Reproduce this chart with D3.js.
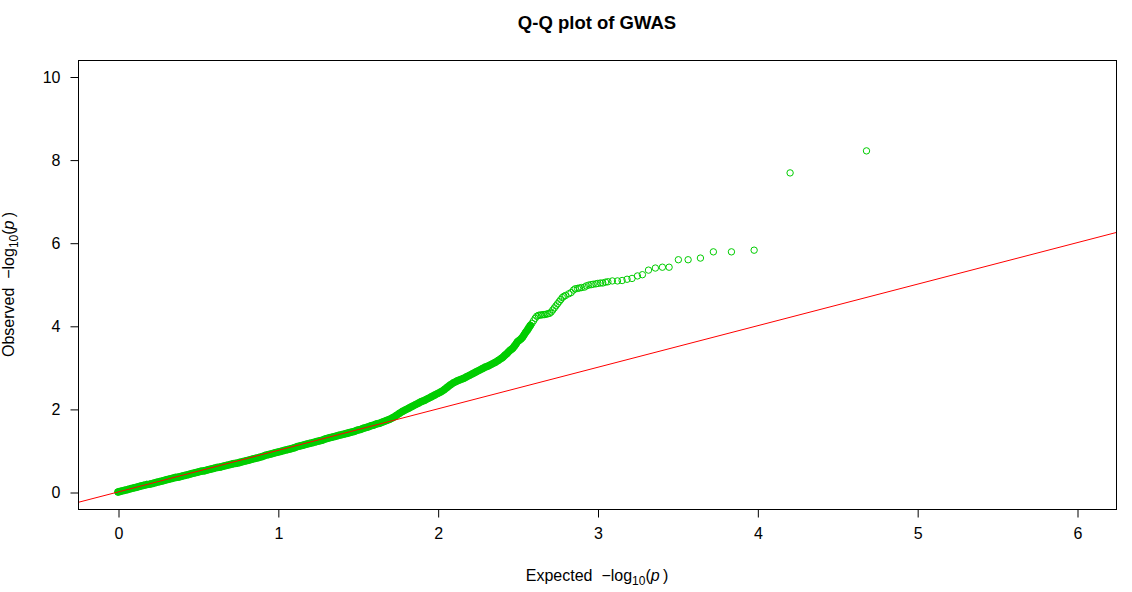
<!DOCTYPE html>
<html>
<head>
<meta charset="utf-8">
<script src="https://cdn.jsdelivr.net/npm/d3@7"></script>
<style>
  body { margin: 0; background: #fff; }
  svg { display: block; font-family: "Liberation Sans", Arial, sans-serif; }
</style>
</head>
<body>
<script>
// dense part of the Q-Q curve: [expected, observed] (-log10 p)
const densePoints = [
  [0.00,0.00],[0.02,0.02],[0.04,0.04],[0.06,0.06],[0.08,0.08],[0.10,0.10],[0.12,0.12],[0.14,0.14],
  [0.16,0.16],[0.18,0.18],[0.20,0.19],[0.22,0.21],[0.24,0.23],[0.26,0.25],[0.28,0.27],[0.30,0.29],
  [0.32,0.31],[0.34,0.33],[0.36,0.35],[0.38,0.36],[0.40,0.38],[0.42,0.40],[0.44,0.42],[0.46,0.44],
  [0.48,0.46],[0.50,0.48],[0.52,0.50],[0.54,0.51],[0.56,0.53],[0.58,0.55],[0.60,0.57],[0.62,0.59],
  [0.64,0.60],[0.66,0.62],[0.68,0.64],[0.70,0.66],[0.72,0.68],[0.74,0.69],[0.76,0.71],[0.78,0.73],
  [0.80,0.75],[0.82,0.77],[0.84,0.79],[0.86,0.81],[0.88,0.83],[0.90,0.85],[0.92,0.88],[0.94,0.90],
  [0.96,0.92],[0.98,0.94],[1.00,0.96],[1.02,0.98],[1.04,1.00],[1.06,1.02],[1.08,1.04],[1.10,1.06],
  [1.12,1.09],[1.14,1.11],[1.16,1.13],[1.18,1.15],[1.20,1.17],[1.22,1.19],[1.24,1.21],[1.26,1.23],
  [1.28,1.25],[1.30,1.28],[1.32,1.30],[1.34,1.32],[1.36,1.34],[1.38,1.36],[1.40,1.38],[1.42,1.40],
  [1.44,1.42],[1.46,1.44],[1.48,1.46],[1.50,1.49],[1.52,1.51],[1.54,1.54],[1.56,1.56],[1.58,1.59],
  [1.60,1.61],[1.62,1.64],[1.64,1.66],[1.66,1.69],[1.68,1.72],[1.70,1.75],[1.72,1.79],[1.74,1.84],
  [1.76,1.89],[1.78,1.94],[1.80,1.98],[1.82,2.02],[1.84,2.06],[1.86,2.10],[1.88,2.14],[1.90,2.18],
  [1.92,2.21],[1.94,2.25],[1.96,2.29],[1.98,2.33],[2.00,2.37],[2.02,2.41],[2.04,2.46],[2.06,2.52],
  [2.08,2.58],[2.10,2.63],[2.12,2.67],[2.14,2.70],[2.16,2.73],[2.18,2.77],[2.20,2.81],[2.22,2.85],
  [2.24,2.89],[2.26,2.93],[2.28,2.97],[2.30,3.01],[2.32,3.04],[2.34,3.08],[2.36,3.12],[2.38,3.17],
  [2.40,3.22],[2.41,3.25],[2.42,3.29],[2.43,3.32],[2.44,3.36],[2.45,3.40],[2.46,3.43],[2.47,3.46],
  [2.48,3.51],[2.49,3.56],[2.50,3.62],[2.51,3.65],[2.52,3.68],[2.53,3.72],[2.54,3.78],[2.55,3.84],
  [2.56,3.89],[2.57,3.95],[2.58,4.01],[2.59,4.06],[2.60,4.12],[2.61,4.18],[2.62,4.23],[2.63,4.25],
  [2.64,4.26],[2.65,4.26],[2.66,4.27],[2.67,4.27],[2.68,4.28],[2.69,4.29],[2.70,4.30],[2.71,4.33],
  [2.72,4.38],[2.73,4.43],[2.74,4.48],[2.75,4.53],[2.76,4.58],[2.77,4.63],[2.78,4.68],[2.79,4.71],
  [2.80,4.73]
]

// sparse upper tail
const tailPoints = [
  [2.82,4.77],[2.835,4.80],[2.85,4.86],[2.86,4.89],[2.875,4.90],[2.887,4.91],[2.90,4.92],[2.918,4.93],
  [2.93,4.96],[2.945,4.98],[2.96,4.99],[2.973,5.00],[2.99,5.01],[3.002,5.02],[3.018,5.03],[3.033,5.03],
  [3.05,5.05],[3.065,5.06],[3.093,5.08],[3.125,5.08],[3.154,5.09],[3.185,5.12],[3.216,5.14],[3.25,5.20],
  [3.281,5.23],[3.319,5.34],[3.362,5.39],[3.406,5.41],[3.448,5.41],[3.506,5.59],[3.567,5.59],[3.644,5.63],
  [3.725,5.78],[3.838,5.78],[3.98,5.82],[4.205,7.68],[4.683,8.21]
]

const xTicks = [0, 1, 2, 3, 4, 5, 6]
const yTicks = [0, 2, 4, 6, 8, 10]

const WIDTH = 1132
const HEIGHT = 592
const BOX = { left: 78, right: 1116, top: 60, bottom: 509 }
const GREEN = '#00cd00'

const svg = d3.select('body').append('svg')
  .attr('width', WIDTH)
  .attr('height', HEIGHT)

const x = d3.scaleLinear().domain([0, 6]).range([118, 1077])
const y = d3.scaleLinear().domain([0, 10]).range([492, 76.5])

svg.append('clipPath').attr('id', 'plotclip')
  .append('rect')
  .attr('x', BOX.left).attr('y', BOX.top)
  .attr('width', BOX.right - BOX.left).attr('height', BOX.bottom - BOX.top)

// overplotted region: thousands of circles merge into a solid band
const line = d3.line().x(d => x(d[0])).y(d => y(d[1]))
svg.append('path')
  .datum(densePoints.filter(d => d[0] <= 2.58))
  .attr('d', line)
  .attr('fill', 'none')
  .attr('stroke', GREEN)
  .attr('stroke-width', 7.5)
  .attr('stroke-linecap', 'round')
  .attr('stroke-linejoin', 'round')

// points
const allPoints = densePoints.concat(tailPoints)
svg.append('g')
  .selectAll('circle')
  .data(allPoints)
  .enter()
  .append('circle')
  .attr('cx', d => x(d[0]))
  .attr('cy', d => y(d[1]))
  .attr('r', 3.2)
  .attr('fill', 'none')
  .attr('stroke', GREEN)
  .attr('stroke-width', 1)

// y = x line
const xd = x.invert(BOX.left), xu = x.invert(BOX.right)
svg.append('line')
  .attr('clip-path', 'url(#plotclip)')
  .attr('x1', x(xd)).attr('y1', y(xd))
  .attr('x2', x(xu)).attr('y2', y(xu))
  .attr('stroke', '#ff0000')
  .attr('stroke-width', 1)

// box
svg.append('rect')
  .attr('x', BOX.left + 0.5).attr('y', BOX.top + 0.5)
  .attr('width', BOX.right - BOX.left).attr('height', BOX.bottom - BOX.top)
  .attr('fill', 'none')
  .attr('stroke', '#000')

// axes
const xAxis = d3.axisBottom(x).tickValues(xTicks).tickSize(8).tickPadding(10).tickFormat(d3.format('d'))
const gx = svg.append('g').attr('transform', `translate(0.5,${BOX.bottom + 0.5})`).call(xAxis)
gx.select('.domain').remove()
gx.selectAll('text').attr('font-size', 16).attr('font-family', '"Liberation Sans", Arial, sans-serif').attr('fill', '#000')

const yAxis = d3.axisLeft(y).tickValues(yTicks).tickSize(8).tickPadding(10).tickFormat(d3.format('d'))
const gy = svg.append('g').attr('transform', `translate(${BOX.left + 0.5},0.5)`).call(yAxis)
gy.select('.domain').remove()
gy.selectAll('text').attr('font-size', 16).attr('font-family', '"Liberation Sans", Arial, sans-serif').attr('fill', '#000')

// title
svg.append('text')
  .attr('x', (BOX.left + BOX.right) / 2)
  .attr('y', 29)
  .attr('text-anchor', 'middle')
  .attr('font-size', 18.5)
  .attr('font-weight', 'bold')
  .text('Q-Q plot of GWAS')

// axis titles with -log10(p)
function mathLabel(sel, prefix) {
  sel.append('tspan').text(prefix + '\u00a0\u2212log')
  sel.append('tspan').attr('font-size', 12).attr('dy', 4).text('10')
  sel.append('tspan').attr('dy', -4).text('(')
  sel.append('tspan').attr('font-style', 'italic').text('p')
  sel.append('tspan').text('\u2009)')
}

const xLab = svg.append('text')
  .attr('x', (BOX.left + BOX.right) / 2)
  .attr('y', 581)
  .attr('text-anchor', 'middle')
  .attr('font-size', 16)
mathLabel(xLab, 'Expected ')

const yLab = svg.append('text')
  .attr('transform', `translate(14,${(BOX.top + BOX.bottom) / 2}) rotate(-90)`)
  .attr('text-anchor', 'middle')
  .attr('font-size', 16)
mathLabel(yLab, 'Observed ')
</script>
</body>
</html>
